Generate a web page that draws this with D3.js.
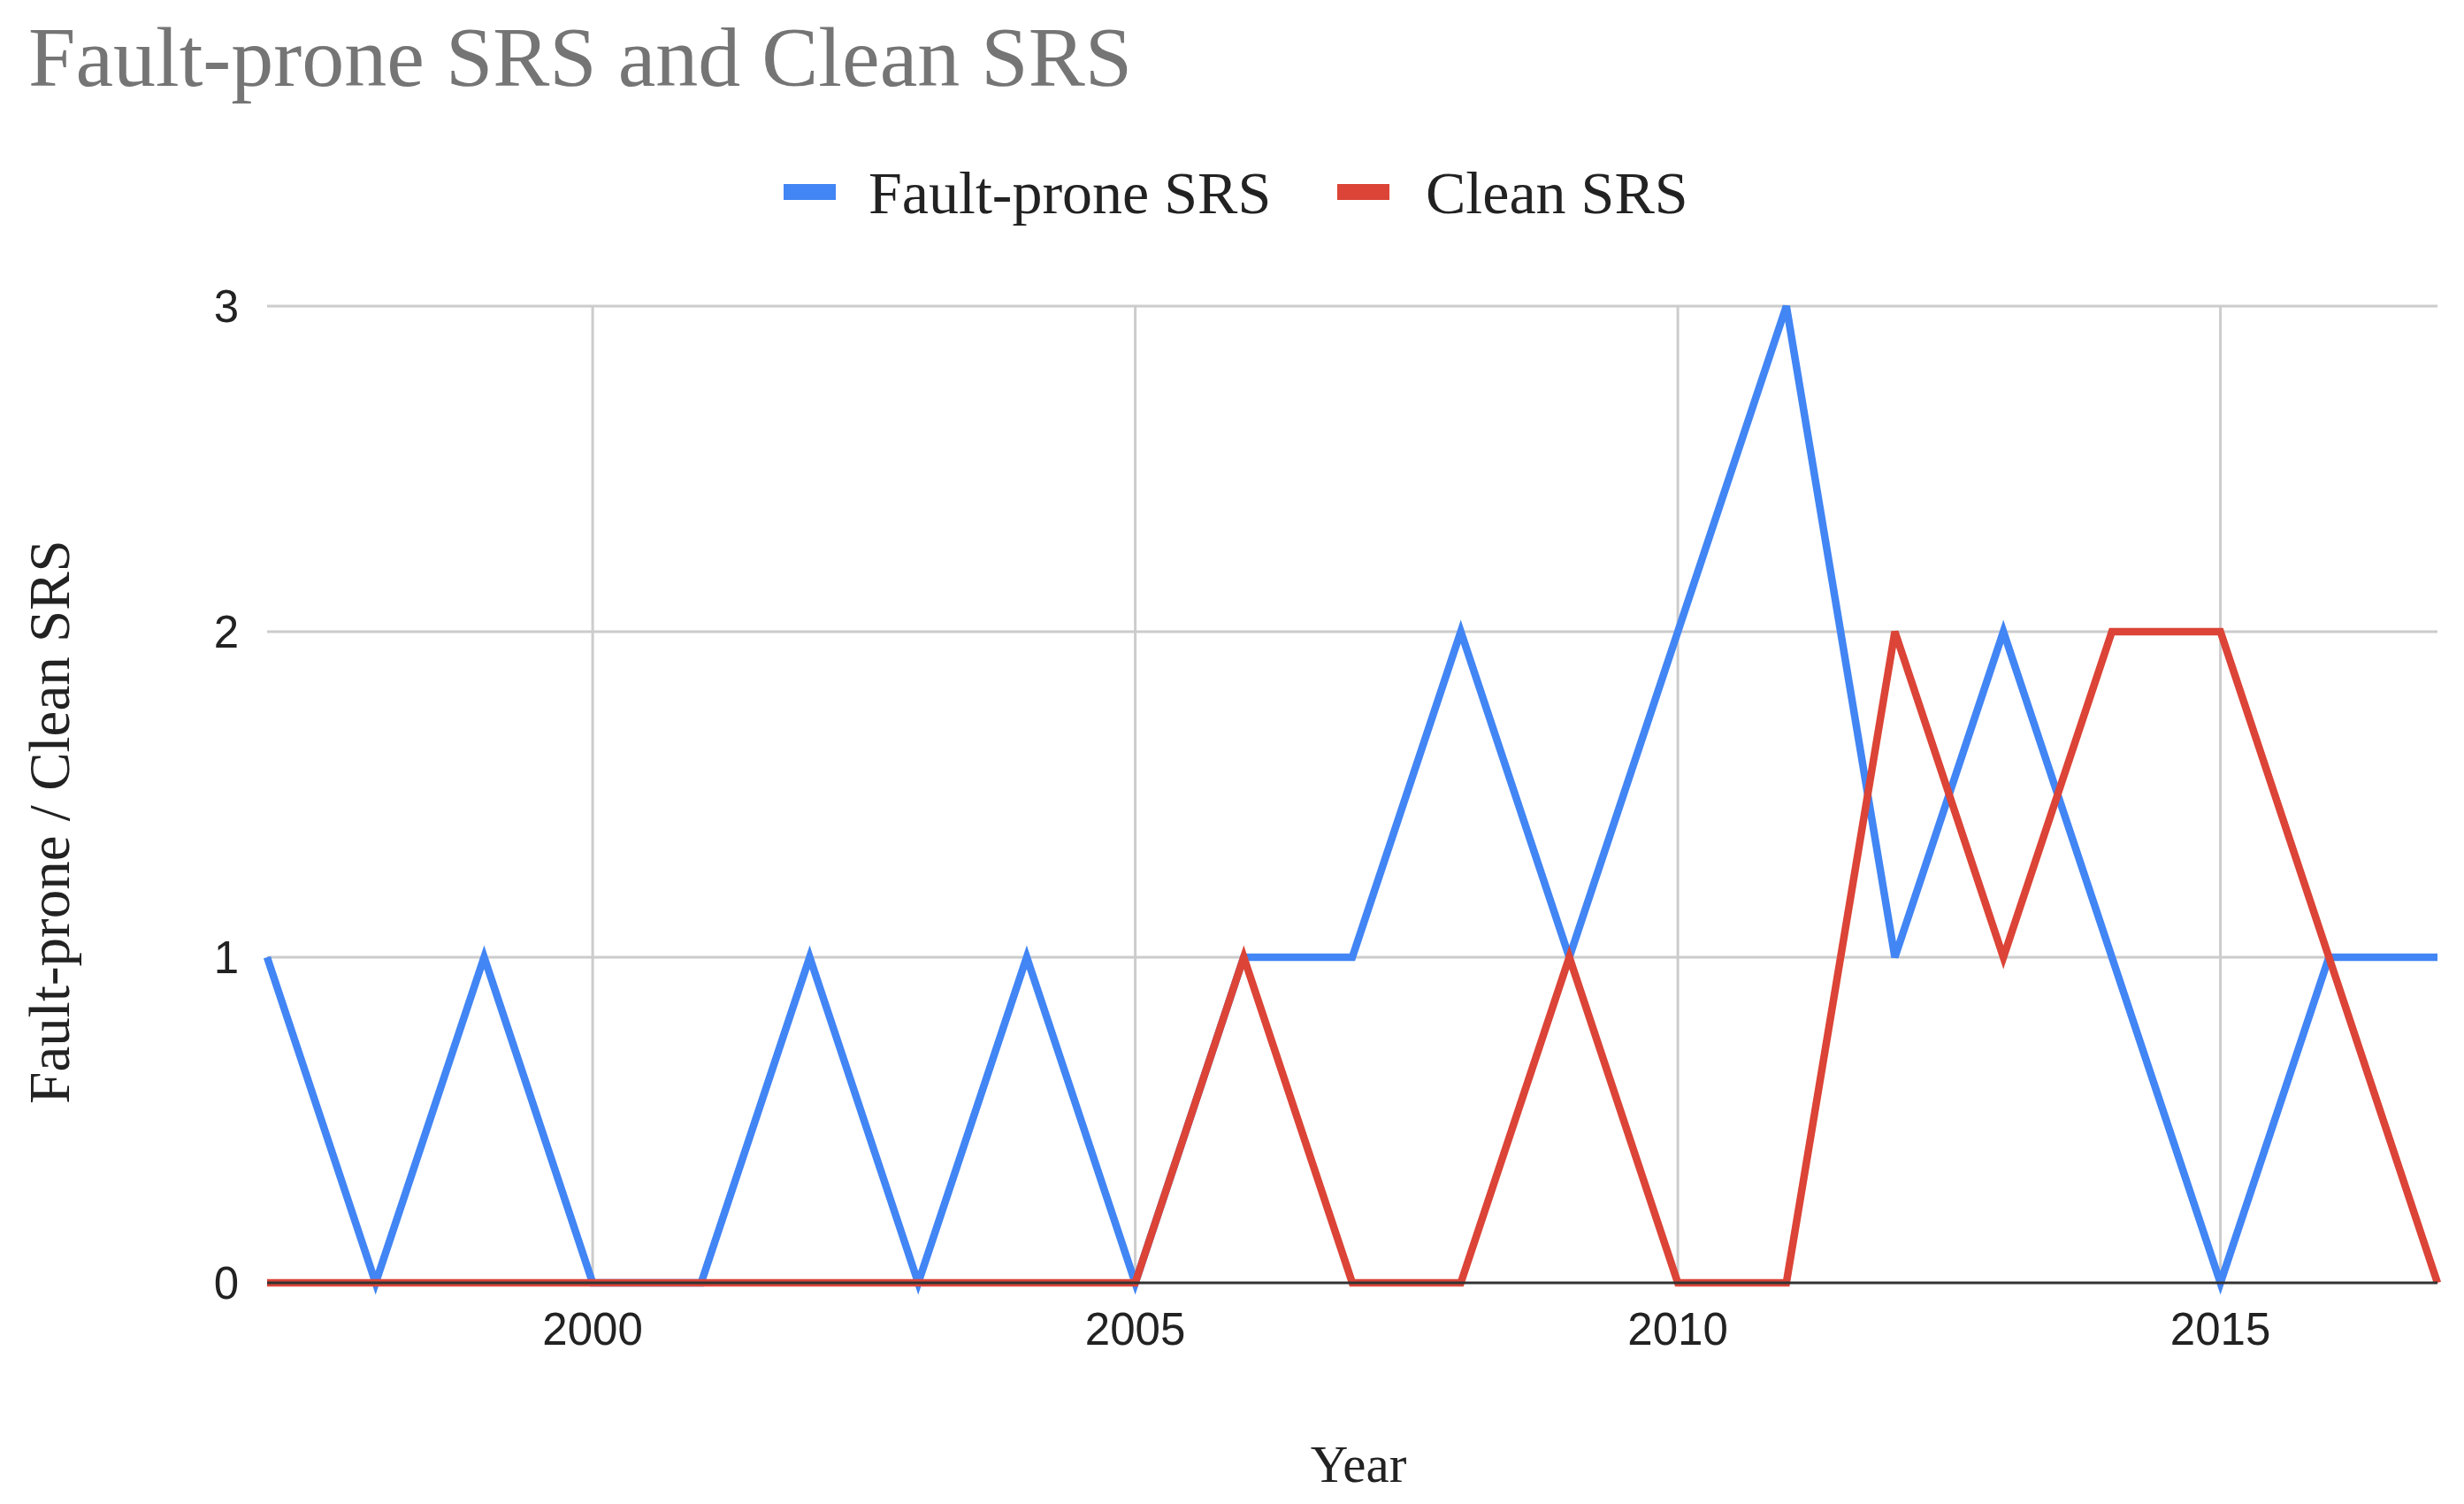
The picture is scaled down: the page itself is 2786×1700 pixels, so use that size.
<!DOCTYPE html>
<html><head><meta charset="utf-8">
<script src="https://cdn.jsdelivr.net/npm/d3@7"></script>
<style>body{margin:0;background:#fff}</style></head>
<body><svg id="c" width="2786" height="1700"></svg>
<script>
const years = d3.range(1997, 2018);
const faultProne = [1,0,1,0,0,1,0,1,0,1,1,2,1,2,3,1,2,1,0,1,1];
const clean =      [0,0,0,0,0,0,0,0,0,1,0,0,1,0,0,2,1,2,2,1,0];
const xTicks = [2000, 2005, 2010, 2015];
const yTicks = [0, 1, 2, 3];
const seriesNames = ["Fault-prone SRS", "Clean SRS"];
const colors = ["#4285F4", "#DB4437"];

const svg = d3.select("#c");
const x = d3.scaleLinear().domain([1997, 2017]).range([302, 2756]);
const y = d3.scaleLinear().domain([0, 3]).range([1450, 346]);
const serif = "'Liberation Serif', 'DejaVu Serif', serif";
const sans = "Arial, 'Liberation Sans', sans-serif";

svg.append("g").selectAll("line").data(yTicks.filter(d=>d>0)).join("line")
  .attr("x1", 302).attr("x2", 2756).attr("y1", d=>y(d)).attr("y2", d=>y(d))
  .attr("stroke", "#ccc").attr("stroke-width", 3);
svg.append("g").selectAll("line").data(xTicks).join("line")
  .attr("x1", d=>x(d)).attr("x2", d=>x(d)).attr("y1", 346).attr("y2", 1450)
  .attr("stroke", "#ccc").attr("stroke-width", 3);

svg.append("g").selectAll("text").data(yTicks).join("text")
  .attr("x", 270).attr("y", d=>y(d)).attr("dy", "0.35em").attr("text-anchor", "end")
  .attr("font-family", sans).attr("font-size", 51).attr("fill", "#222").text(d=>d);
svg.append("g").selectAll("text").data(xTicks).join("text")
  .attr("x", d=>x(d)).attr("y", 1520).attr("text-anchor", "middle")
  .attr("font-family", sans).attr("font-size", 51).attr("fill", "#222").text(d=>d);

const line = d3.line().x((d,i)=>x(years[i])).y(d=>y(d));
[faultProne, clean].forEach((s, k) => {
  svg.append("path").attr("d", line(s)).attr("fill", "none")
    .attr("stroke", colors[k]).attr("stroke-width", 8.5).attr("stroke-linejoin", "miter");
});

svg.append("line").attr("x1", 302).attr("x2", 2756).attr("y1", y(0)).attr("y2", y(0))
  .attr("stroke", "#333").attr("stroke-width", 3);

svg.append("text").attr("x", 32).attr("y", 97).attr("font-family", serif)
  .attr("font-size", 96).attr("fill", "#757575").text("Fault-prone SRS and Clean SRS");

const leg = [{sx:886, tx:982}, {sx:1512, tx:1612}];
leg.forEach((l, k) => {
  svg.append("rect").attr("x", l.sx).attr("y", 208).attr("width", 59).attr("height", 18)
    .attr("fill", colors[k]);
  svg.append("text").attr("x", l.tx).attr("y", 217).attr("dy", "0.35em")
    .attr("font-family", serif).attr("font-size", 68).attr("fill", "#222").text(seriesNames[k]);
});

svg.append("text").attr("x", 1536).attr("y", 1675).attr("text-anchor", "middle")
  .attr("font-family", serif).attr("font-size", 59).attr("fill", "#222").text("Year");
svg.append("text").attr("transform", "translate(78,929) rotate(-90)").attr("text-anchor", "middle")
  .attr("font-family", serif).attr("font-size", 65).attr("fill", "#222").text("Fault-prone / Clean SRS");
</script></body></html>
